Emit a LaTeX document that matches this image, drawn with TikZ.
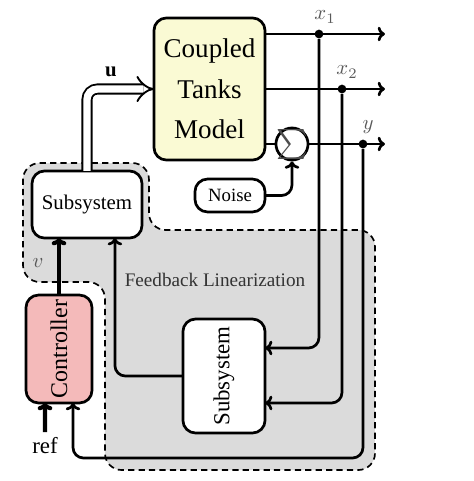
\documentclass[tikz,border=0pt]{standalone}
\usepackage{amsmath}
\usepackage{fontspec}
\setmainfont{Liberation Serif}
\usetikzlibrary{arrows.meta}
\definecolor{modelfill}{RGB}{250,250,212}
\definecolor{ctrlfill}{RGB}{244,186,186}
\begin{document}
\begin{tikzpicture}[x=0.48pt,y=-0.48pt,
  box/.style={draw, line width=1.3pt, rounded corners=6pt, fill=white, inner sep=0pt, outer sep=0pt, align=center},
  wire/.style={line width=1.3pt, rounded corners=5pt},
  arr/.style={wire, -{To[length=3.5pt,width=7pt]}},
  dot/.style={circle, fill=black, inner sep=0pt, minimum size=4.2pt},
  lab/.style={text=black!65, inner sep=1pt}]
\useasboundingbox (0,0) rectangle (474,481);
% background region
\draw[dashed, dash pattern=on 3pt off 2pt, line width=0.8pt, fill=black!14, rounded corners=8pt]
  (23,163) -- (149,163) -- (149,230) -- (375,230) -- (375,470) -- (105,470) -- (105,282) -- (23,282) -- cycle;
% blocks
\node[box, fill=modelfill, minimum width=53.3pt, minimum height=68.2pt, font=\fontsize{13}{19.5}\selectfont] (model) at (209.5,89) {Coupled\\Tanks\\Model};
\node[box, minimum width=52.8pt, minimum height=32.2pt, font=\fontsize{10}{12}\selectfont] (sub1) at (87,204.5) {Subsystem};
\node[box, minimum width=33.6pt, minimum height=15.8pt, font=\fontsize{9}{11}\selectfont] (noise) at (230,195.5) {Noise};
\node[box, fill=ctrlfill, minimum width=31.7pt, minimum height=51.8pt, font=\fontsize{11.5}{13}\selectfont] (ctrl) at (59,349) {\rotatebox{90}{Controller}};
\node[box, minimum width=39.4pt, minimum height=54.7pt, font=\fontsize{11}{13}\selectfont] (sub2) at (224,376) {\rotatebox{90}{Subsystem}};
\node[draw, circle, line width=1.3pt, fill=white, minimum size=15.4pt, inner sep=-4pt, text=black!70, font=\fontsize{14}{14}\selectfont] (sum) at (292,144) {$\sum$};
% dots
\node[dot] (d1) at (319,34) {};
\node[dot] (d2) at (342,89) {};
\node[dot] (d3) at (363,144) {};
\coordinate (e1) at (385,34);
\coordinate (e2) at (385,89);
\coordinate (e3) at (385,144);
\coordinate (ybot) at (363,458);
\coordinate (refin) at (45,432);
% labels
\node[lab] (lx1) at (325,17) {$x_1$};
\node[lab] (lx2) at (347,72) {$x_2$};
\node[lab] (ly) at (368,127) {$y$};
\node[lab] (lv) at (38,263) {$v$};
\node[inner sep=1pt] (lu) at (111,72) {$\mathbf{u}$};
\node[text=black!80, font=\fontsize{9.2}{11}\selectfont] (lfl) at (215,280) {Feedback Linearization};
\node[inner sep=1pt, font=\fontsize{11}{13}\selectfont] (ref) at (45,446) {ref};
% outputs
\draw[arr] (model.east |- d1) -- (e1);
\draw[arr] (model.east |- d2) -- (e2);
\draw[wire] (model.east |- sum) -- (sum.west);
\draw[arr] (sum.east) -- (e3);
\draw[arr] (noise.east) -| (sum.south);
% input u
\draw[double, double distance=3.5pt, line width=0.9pt, rounded corners=5pt, -{Implies[length=6pt,width=9pt]}] (sub1.north) |- (model.west);
% controller
\draw[line width=2pt, -{To[length=3.5pt,width=7pt]}] (ctrl.north) -- (ctrl.north |- sub1.south);
\draw[line width=2pt, -{To[length=3.5pt,width=7pt]}] (refin) -- ([xshift=-6.72pt]ctrl.south);
% feedback
\draw[arr] (sub2.west) -| ([xshift=13.4pt]sub1.south);
\draw[arr] (d1) |- ([yshift=13.44pt]sub2.east);
\draw[arr] (d2) |- ([yshift=-12.96pt]sub2.east);
\draw[arr] (d3) -- (ybot) -| ([xshift=6.72pt]ctrl.south);
\end{tikzpicture}
\end{document}
